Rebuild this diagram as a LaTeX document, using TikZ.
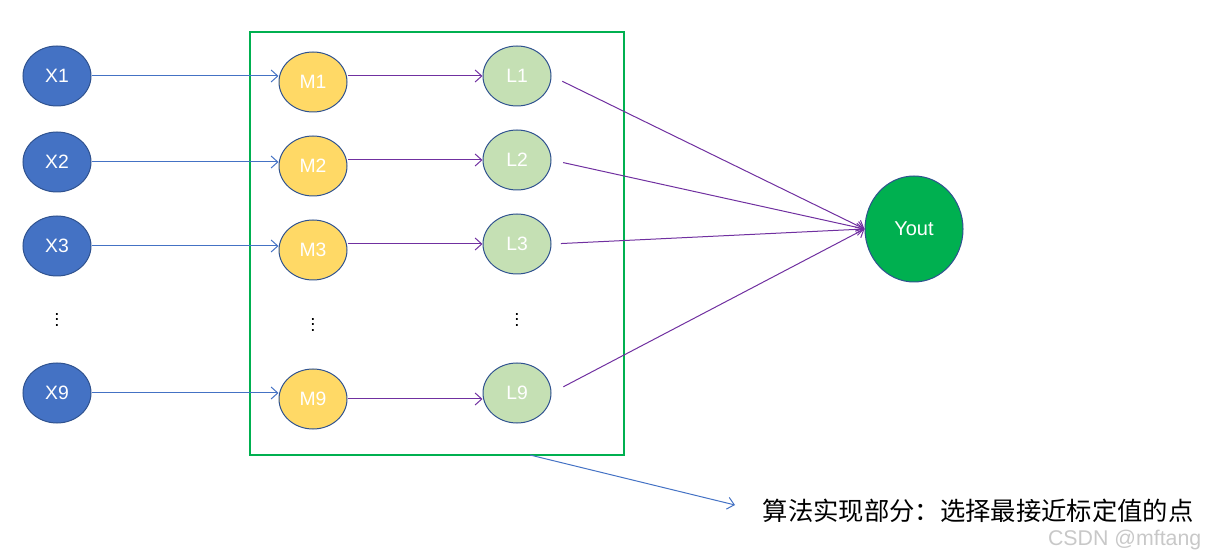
\documentclass[tikz,border=0pt]{standalone}
\usepackage{fontspec}
\setmainfont{Liberation Sans}
\newfontfamily\cjk{Noto Sans CJK SC}
\usetikzlibrary{arrows.meta,shapes.geometric}
\definecolor{inblue}{HTML}{4472C4}
\definecolor{edgeblue}{HTML}{2F528F}
\definecolor{midgold}{HTML}{FFD966}
\definecolor{lightgreen}{HTML}{C5E0B4}
\definecolor{outgreen}{HTML}{00B050}
\definecolor{arrowpurple}{HTML}{7030A0}
\definecolor{wmgray}{HTML}{C8C8C8}
\tikzset{
  cell/.style={ellipse,draw=edgeblue,line width=0.75pt,minimum width=51pt,
    minimum height=45pt,inner sep=0pt,text=white,font=\fontsize{14.5}{17}\selectfont},
  feed/.style={-{Straight Barb[length=5pt,width=9pt]},line width=0.75pt},
  gap/.style={font=\fontsize{14}{16}\selectfont\boldmath},
}

\begin{document}
\begin{tikzpicture}[x=0.75pt,y=-0.75pt]
        \useasboundingbox (0,0) rectangle (1210,559);
        % selection box
        \draw[outgreen,line width=1.5pt] (250,32) rectangle (624,455);
        \coordinate (tail) at (530,455);
        \coordinate (head) at (735,505);
        % inputs
        \node[cell,fill=inblue] (x1) at (57,76) {X1};
        \node[cell,fill=inblue] (x2) at (57,162) {X2};
        \node[cell,fill=inblue] (x3) at (57,246) {X3};
        \node[cell,fill=inblue] (x9) at (57,393) {X9};
        \node[gap] (xdots) at (57,316) {$\vdots$};
        % middle layer
        \node[cell,fill=midgold] (m1) at (313,82) {M1};
        \node[cell,fill=midgold] (m2) at (313,166) {M2};
        \node[cell,fill=midgold] (m3) at (313,250) {M3};
        \node[cell,fill=midgold] (m9) at (313,399) {M9};
        \node[gap] (mdots) at (313,321) {$\vdots$};
        % last layer
        \node[cell,fill=lightgreen] (l1) at (517,76) {L1};
        \node[cell,fill=lightgreen] (l2) at (517,160) {L2};
        \node[cell,fill=lightgreen] (l3) at (517,244) {L3};
        \node[cell,fill=lightgreen] (l9) at (517,393) {L9};
        \node[gap] (ldots) at (517,316) {$\vdots$};
        % output
        \node[cell,fill=outgreen,minimum width=73.5pt,minimum height=79.5pt,
          font=\fontsize{15}{17}\selectfont] (yout) at (914,229) {Yout};
        % links
        \draw[feed,inblue] (x1.east) -- (x1.east -| m1.west);
        \draw[feed,inblue] (x2.east) -- (x2.east -| m2.west);
        \draw[feed,inblue] (x3.east) -- (x3.east -| m3.west);
        \draw[feed,inblue] (x9.east) -- (x9.east -| m9.west);
        \draw[feed,arrowpurple] (m1.east |- l1.west) -- (l1.west);
        \draw[feed,arrowpurple] (m2.east |- l2.west) -- (l2.west);
        \draw[feed,arrowpurple] (m3.east |- l3.west) -- (l3.west);
        \draw[feed,arrowpurple] (m9.east) -- (m9.east -| l9.west);
        \draw[feed,arrowpurple,shorten <=9pt] (l1.east) -- (yout.west);
        \draw[feed,arrowpurple,shorten <=9pt] (l2.east) -- (yout.west);
        \draw[feed,arrowpurple,shorten <=7pt] (l3.east) -- (yout.west);
        \draw[feed,arrowpurple,shorten <=10pt] (l9.east) -- (yout.west);
        % note
        \node[anchor=west,font=\cjk\fontsize{19}{23}\selectfont] (note) at (758,511)
          {算法实现部分：选择最接近标定值的点};
        \draw[feed,inblue] (tail) -- (head);
        \node[anchor=east,text=wmgray,font=\fontsize{16}{18}\selectfont] (wm) at (1206,540)
          {CSDN @mftang};
      \end{tikzpicture}
\end{document}
